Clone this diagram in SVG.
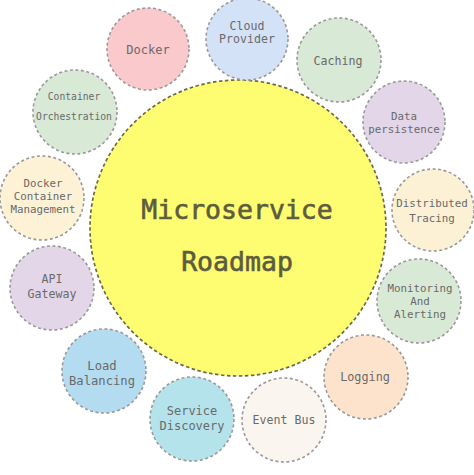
<svg xmlns="http://www.w3.org/2000/svg" width="474" height="475" viewBox="0 0 474 475">
<style>
.n{stroke:#9a9a9a;stroke-width:1.6;stroke-dasharray:3 2.5}
.m{fill:#fefc70;stroke:#6b6b48;stroke-width:1.7;stroke-dasharray:3.5 2.5}
text{font-family:"DejaVu Sans Mono","Liberation Mono",monospace;fill:#6a6a6a;text-anchor:middle}
.t{font-size:26.5px;fill:#5c5c3e;stroke:#5c5c3e;stroke-width:0.6}
</style>
<rect width="474" height="475" fill="#ffffff"/>
<g id="center"><circle class="m" cx="238" cy="228" r="148"/><text class="t" x="237" y="219">Microservice</text><text class="t" x="237" y="271">Roadmap</text></g>
<g id="docker"><circle class="n" cx="148" cy="49" r="41" fill="#f9c9cc"/><text x="148" y="54" font-size="12">Docker</text></g>
<g id="cloud"><circle class="n" cx="247" cy="39" r="41" fill="#d3e2f7"/><text x="247" y="30" font-size="11.6">Cloud</text><text x="247" y="43" font-size="11.6">Provider</text></g>
<g id="caching"><circle class="n" cx="339" cy="60" r="42" fill="#d8e9d6"/><text x="338" y="65" font-size="11.6">Caching</text></g>
<g id="data"><circle class="n" cx="404" cy="122" r="41" fill="#e3d6e9"/><text x="404" y="120" font-size="10.8">Data</text><text x="404" y="133" font-size="10.8">persistence</text></g>
<g id="tracing"><circle class="n" cx="433" cy="210" r="41" fill="#fcf1d4"/><text x="432" y="207" font-size="10.8">Distributed</text><text x="432" y="222" font-size="10.8">Tracing</text></g>
<g id="monitoring"><circle class="n" cx="419" cy="301" r="42" fill="#d8e9d6"/><text x="420" y="292" font-size="10.8">Monitoring</text><text x="420" y="305" font-size="10.8">And</text><text x="420" y="318" font-size="10.8">Alerting</text></g>
<g id="logging"><circle class="n" cx="366" cy="377" r="42" fill="#fde3cc"/><text x="365" y="381" font-size="11.8">Logging</text></g>
<g id="eventbus"><circle class="n" cx="284" cy="420" r="42" fill="#faf5ee"/><text x="284" y="424" font-size="11.6">Event Bus</text></g>
<g id="discovery"><circle class="n" cx="192" cy="419" r="42" fill="#b4e3ec"/><text x="192" y="415" font-size="12">Service</text><text x="192" y="430" font-size="12">Discovery</text></g>
<g id="loadbal"><circle class="n" cx="104" cy="371" r="42" fill="#b3dcf0"/><text x="102" y="370" font-size="12.2">Load</text><text x="102" y="385" font-size="12.2">Balancing</text></g>
<g id="apigw"><circle class="n" cx="52" cy="288" r="42" fill="#e3d6e9"/><text x="52" y="283" font-size="11.6">API</text><text x="52" y="298" font-size="11.6">Gateway</text></g>
<g id="dockermgmt"><circle class="n" cx="42" cy="198" r="42" fill="#fdf2d6"/><text x="43" y="187" font-size="10.8">Docker</text><text x="43" y="200" font-size="10.8">Container</text><text x="43" y="213" font-size="10.8">Management</text></g>
<g id="orchestration"><circle class="n" cx="75" cy="112" r="42" fill="#d8e9d6"/><text x="74" y="100" font-size="9.7">Container</text><text x="74" y="120" font-size="9.7">Orchestration</text></g>
<g id="connectors"></g>
</svg>
